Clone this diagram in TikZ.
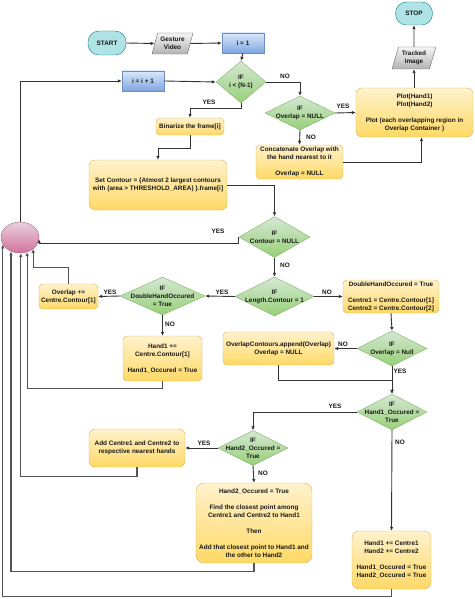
\documentclass[tikz,border=0pt]{standalone}
\usepackage{fontspec}
\setmainfont{Liberation Sans}
\usetikzlibrary{shapes.geometric,arrows.meta}
\definecolor{yTop}{HTML}{FFF2CC}
\definecolor{yBot}{HTML}{FFD966}
\definecolor{yBrd}{HTML}{D6B656}
\definecolor{gTop}{HTML}{D5E8D4}
\definecolor{gBot}{HTML}{97D077}
\definecolor{gBrd}{HTML}{82B366}
\definecolor{bTop}{HTML}{DAE8FC}
\definecolor{bBot}{HTML}{7EA6E0}
\definecolor{bBrd}{HTML}{6C8EBF}
\definecolor{sTop}{HTML}{F5F5F5}
\definecolor{sBot}{HTML}{B3B3B3}
\definecolor{sBrd}{HTML}{666666}
\definecolor{cFill}{HTML}{B0E3E6}
\definecolor{cBrd}{HTML}{0E8088}
\definecolor{pTop}{HTML}{E6D0DE}
\definecolor{pBot}{HTML}{D5739D}
\definecolor{pBrd}{HTML}{996185}
\definecolor{lineC}{HTML}{333333}
\definecolor{loopC}{HTML}{555555}
\begin{document}
\begin{tikzpicture}[x=1pt,y=-1pt,
  txt/.style={font=\fontsize{6.4}{8}\selectfont\bfseries, align=center, text=black!90},
  ybox/.style={draw=yBrd, top color=yTop, bottom color=yBot, rounded corners=4pt, inner sep=0pt, txt},
  bbox/.style={draw=bBrd, top color=bTop, bottom color=bBot, inner sep=0pt, txt},
  gdia/.style={diamond, draw=gBrd, top color=gTop, bottom color=gBot, inner sep=0pt},
  gpar/.style={trapezium, trapezium left angle=70, trapezium right angle=110, trapezium stretches=true, draw=sBrd, top color=sTop, bottom color=sBot, inner sep=0pt, txt},
  term/.style={draw=cBrd, fill=cFill, rounded corners=11pt, inner sep=0pt, txt},
  conn/.style={ellipse, draw=pBrd, top color=pTop, bottom color=pBot, inner sep=0pt},
  arr/.style={draw=lineC, line width=0.9pt, -{Latex[length=4pt,width=3.6pt]}},
  loop/.style={draw=loopC, line width=1.1pt, -{Latex[length=4pt,width=3.6pt]}},
  lbl/.style={txt, inner sep=0pt}
]
\useasboundingbox (0,0) rectangle (474,599);

% nodes
\node[term, minimum width=38, minimum height=24] (start) at (107,43) {START};
\node[gpar, minimum width=41, minimum height=21] (gv) at (172.5,43.5) {Gesture\\Video};
\node[bbox, minimum width=42, minimum height=20] (i1) at (243,43) {i = 1};
\node[term, minimum width=37, minimum height=23] (stop) at (414,13.5) {STOP};
\node[gpar, minimum width=44, minimum height=22] (ti) at (414,58) {Tracked\\Image};
\node[bbox, minimum width=42, minimum height=20] (iinc) at (143,81) {i = i + 1};
\node[gdia, minimum width=50, minimum height=42, label={[txt]center:{IF\\i < (N-1)}}] (d1) at (241,82) {};
\node[gdia, minimum width=70, minimum height=34, label={[txt]center:{IF\\Overlap = NULL}}] (dov) at (300,113) {};
\node[ybox, minimum width=117, minimum height=49, rounded corners=6pt] (plot) at (414.5,112.5) {Plot(Hand1)\\Plot(Hand2)\\[8pt]Plot (each overlapping region in\\Overlap Container )};
\node[ybox, minimum width=87, minimum height=34] (conc) at (299.5,162) {Concatenate Overlap with\\the hand nearest to it\\[8pt]Overlap = NULL};
\node[ybox, minimum width=68, minimum height=17] (bin) at (190,126.5) {Binarize the frame[i]};
\node[ybox, minimum width=138, minimum height=50, rounded corners=6pt] (setc) at (158,185) {Set Contour = \{Atmost 2 largest contours\\with (area > THRESHOLD\_AREA) \}.frame[i]};
\node[gdia, minimum width=71, minimum height=41, label={[txt]center:{IF\\Contour = NULL}}] (dcn) at (274.5,237) {};
\node[conn, minimum width=38, minimum height=31] (ell) at (20,237.5) {};
\node[gdia, minimum width=79, minimum height=39, label={[txt]center:{IF\\Length.Contour = 1}}] (dlen) at (274.5,296.5) {};
\node[ybox, minimum width=96, minimum height=33] (dh) at (391,296.5) {DoubleHandOccured = True\\[8pt]Centre1 = Centre.Contour[1]\\Centre2 = Centre.Contour[2]};
\node[gdia, minimum width=85, minimum height=38, label={[txt]center:{IF\\DoubleHandOccured\\= True}}] (ddh) at (162.5,296) {};
\node[ybox, minimum width=59, minimum height=25] (ov) at (68.5,296.5) {Overlap +=\\Centre.Contour[1]};
\node[ybox, minimum width=79, minimum height=45] (h1c) at (162.5,358.5) {Hand1 +=\\Centre.Contour[1]\\[8pt]Hand1\_Occured = True};
\node[gdia, minimum width=70, minimum height=35, label={[txt]center:{IF\\Overlap = Null}}] (dovn) at (392,348.5) {};
\node[ybox, minimum width=111, minimum height=33] (oc) at (278.5,348.5) {OverlapContours.append(Overlap)\\Overlap = NULL};
\node[gdia, minimum width=70, minimum height=36, label={[txt]center:{IF\\Hand1\_Occured =\\True}}] (dh1) at (392,412) {};
\node[gdia, minimum width=70, minimum height=35, label={[txt]center:{IF\\Hand2\_Occured =\\True}}] (dh2) at (253,448) {};
\node[ybox, minimum width=96, minimum height=38, rounded corners=6pt] (add) at (137,448) {Add Centre1 and Centre2 to\\respective nearest hands};
\node[ybox, minimum width=116, minimum height=80, rounded corners=8pt] (h2b) at (254,523) {Hand2\_Occured = True\\[8pt]Find the closest point among\\Centre1 and Centre2 to Hand1\\[8pt]Then\\[8pt]Add that closest point to Hand1 and\\the other to Hand2};
\node[ybox, minimum width=79, minimum height=58, rounded corners=7pt] (h12) at (391.5,560) {Hand1 += Centre1\\Hand2 += Centre2\\[8pt]Hand1\_Occured = True\\Hand2\_Occured = True};

% connectors
\draw[arr] (start.east) -- (gv.west);
\draw[arr] (gv.east) -- (i1.west);
\draw[arr] (i1.south) -- (d1.north);
\draw[arr] (d1.east) -| (dov.north);
\draw[arr] (d1.south) -- ++(0,5) -| (bin.north);
\draw[arr] (dov.east) -- (plot.west);
\draw[arr] (dov.south) -- (conc.north);
\draw[arr] (conc.east) -| ([xshift=7pt]plot.south);
\draw[arr] (plot.north -| ti.south) -- (ti.south);
\draw[arr] (ti.north) -- (stop.south);
\draw[arr] (bin.south) -- ++(0,13) -| (setc.north);
\draw[arr] (setc.east) -| (dcn.north);
\draw[arr] (dcn.west) -- ++(0,6) -| (ell.-5);
\draw[arr] (ell.north) |- (iinc.west);
\draw[arr] (iinc.east) -- (d1.west);
\draw[arr] (dcn.south) -- (dlen.north);
\draw[arr] (dlen.east) -- (dh.west);
\draw[arr] (dlen.west) -- (ddh.east);
\draw[arr] (ddh.west) -- (ov.east);
\draw[arr] (ddh.south) -- (h1c.north);
\draw[arr] (dh.south) -- (dovn.north);
\draw[arr] (dovn.west) -- (oc.east);
\draw[arr] (dovn.south) -- (dh1.north);
\draw[arr] (oc.south) -- ++(0,15) -| (dh1.north);
\draw[arr] (dh1.west) -| (dh2.north);
\draw[arr] (dh1.south) -- (h12.north);
\draw[arr] (dh2.west) -- (add.east);
\draw[arr] (dh2.south) -- (h2b.north);
% loops back to connector
\draw[loop] (ov.north) -- ++(0,-16) -| (ell.-41);
\draw[loop] (h1c.south) -- ++(0,7) -| (ell.-64);
\draw[loop] (add.south) -- ++(0,9) -| (ell.-87);
\draw[loop] (h2b.south) -- ++(0,8) -| (ell.-123);
\draw[loop] (h12.south) -- ++(0,7) -| (ell.-158);

% labels
\node[lbl] (l1) at (285,76) {NO};
\node[lbl] (l2) at (209,102) {YES};
\node[lbl] (l3) at (343,106) {YES};
\node[lbl] (l4) at (311,137) {NO};
\node[lbl] (l5) at (218,231) {YES};
\node[lbl] (l6) at (285,265) {NO};
\node[lbl] (l7) at (327,292) {NO};
\node[lbl] (l8) at (222,292) {YES};
\node[lbl] (l9) at (110,292) {YES};
\node[lbl] (l10) at (170,324) {NO};
\node[lbl] (l11) at (343,344) {NO};
\node[lbl] (l12) at (400,371) {YES};
\node[lbl] (l13) at (335,406) {YES};
\node[lbl] (l14) at (400,442) {NO};
\node[lbl] (l15) at (204,443) {YES};
\node[lbl] (l16) at (263,473) {NO};
\end{tikzpicture}
\end{document}
